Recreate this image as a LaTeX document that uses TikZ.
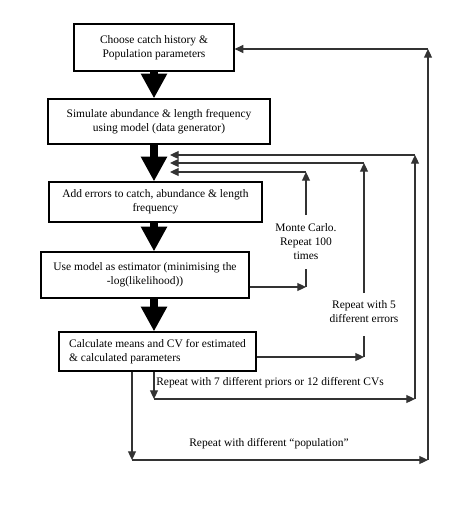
\documentclass[tikz,border=0pt]{standalone}
\usepackage{fontspec}
\setmainfont{Liberation Serif}
\usetikzlibrary{arrows.meta}
\begin{document}
\begin{tikzpicture}[x=0.75pt,y=-0.75pt,
  every node/.style={font=\fontsize{8.6}{10.5}\selectfont},
  box/.style={draw=black,line width=0.9pt,inner sep=0pt,align=center},
  bigarrow/.style={line width=6pt,-{Triangle[width=18.5pt,length=18.5pt]}},
  conn/.style={draw=black!80,line width=0.8pt},
  tipped/.style={conn,-{Triangle[width=6pt,length=6.5pt]}},
  lbl/.style={align=center,inner sep=0pt}]
\useasboundingbox (0,0) rectangle (474,531);
% boxes
\node[box,minimum width=120pt,minimum height=35.25pt] (b1) at (154,47.5)
  {Choose catch history \&\\Population parameters};
\node[box,minimum width=166.5pt,minimum height=33.75pt] (b2) at (159,121.5)
  {Simulate abundance \& length frequency\\using model (data generator)};
\node[box,minimum width=159.75pt,minimum height=30pt] (b3) at (155.5,202)
  {Add errors to catch, abundance \& length\\frequency};
\node[box,minimum width=156pt,minimum height=34.5pt] (b4) at (145,275)
  {Use model as estimator (minimising the\\-log(likelihood))};
\node[box,minimum width=147.75pt,minimum height=29.25pt,align=left] (b5) at (157.5,351.5)
  {Calculate means and CV for estimated\\\& calculated parameters};
% thick arrows
\draw[bigarrow] (b1.south) -- (b2.north -| b1.south);
\draw[bigarrow] (b2.south -| b1.south) -- (b3.north -| b1.south);
\draw[bigarrow] (b3.south -| b1.south) -- (b4.north -| b1.south);
\draw[bigarrow] (b4.south -| b1.south) -- (b5.north -| b1.south);
% inputs near arrow 2
\coordinate (in1) at (170,155);
\coordinate (in2) at (170,163);
\coordinate (in3) at (170,172);
% Monte Carlo loop
\coordinate (m1) at (306,287);
\coordinate (m2) at (306,269);
\coordinate (m3) at (306,215);
\coordinate (m4) at (306,172);
\node[lbl] (tmc) at (306,242) {Monte Carlo.\\Repeat 100\\times};
\draw[tipped] (m1 -| b4.east) -- (m1);
\draw[conn] (m1) -- (m2);
\draw[tipped] (m3) -- (m4);
\draw[tipped] (m4) -- (in3);
% errors loop
\coordinate (e1) at (364,357);
\coordinate (e2) at (364,336);
\coordinate (e3) at (364,293);
\coordinate (e4) at (364,163);
\node[lbl] (terr) at (364,312) {Repeat with 5\\different errors};
\draw[tipped] (e1 -| b5.east) -- (e1);
\draw[conn] (e1) -- (e2);
\draw[tipped] (e3) -- (e4);
\draw[tipped] (e4) -- (in2);
% priors loop
\coordinate (p1) at (154,399);
\coordinate (p2) at (415,399);
\coordinate (p3) at (415,155);
\draw[tipped] (p1 |- b5.south) -- (p1);
\draw[tipped] (p1) -- (p2);
\draw[tipped] (p2) -- (p3);
\draw[tipped] (p3) -- (in1);
\node[anchor=west,inner sep=0pt] (tpr) at (156,383) {Repeat with 7 different priors or 12 different CVs};
% population loop
\coordinate (q1) at (132,460);
\coordinate (q2) at (428,460);
\coordinate (q3) at (428,49);
\draw[tipped] (q1 |- b5.south) -- (q1);
\draw[tipped] (q1) -- (q2);
\draw[tipped] (q2) -- (q3);
\draw[tipped] (q3) -- (q3 -| b1.east);
\node[inner sep=0pt] (tpop) at (269,444) {Repeat with different “population”};
\end{tikzpicture}
\end{document}
